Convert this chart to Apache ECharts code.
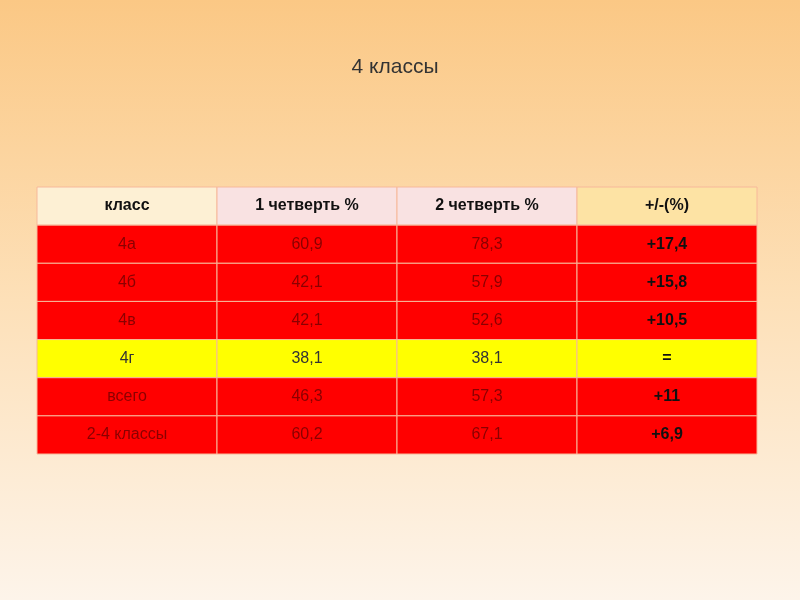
<!DOCTYPE html>
<html><head><meta charset="utf-8">
<script src="https://cdn.jsdelivr.net/npm/echarts@6/dist/echarts.min.js"></script>
<style>html,body{margin:0;padding:0}#c{width:800px;height:600px}</style>
</head><body><div id="c"></div>
<script>
const headers = ['класс', '1 четверть %', '2 четверть %', '+/-(%)'];
const classes = ['4а', '4б', '4в', '4г', 'всего', '2-4 классы'];
const q1 = ['60,9', '42,1', '42,1', '38,1', '46,3', '60,2'];
const q2 = ['78,3', '57,9', '52,6', '38,1', '57,3', '67,1'];
const diff = ['+17,4', '+15,8', '+10,5', '=', '+11', '+6,9'];
const yellowRows = [3];
const headerFills = ['#fdf0d4', '#f9e2e2', '#f9e2e2', '#fde3a4'];

const cells = [];
headers.forEach((h, c) => cells.push([c, 0, h, 'h']));
classes.forEach((cl, r) => {
  const kind = yellowRows.includes(r) ? 'y' : 'r';
  [cl, q1[r], q2[r], diff[r]].forEach((v, c) => cells.push([c, r + 1, v, kind]));
});

const chart = echarts.init(document.getElementById('c'));
chart.setOption({
  backgroundColor: new echarts.graphic.LinearGradient(0, 0, 0, 1, [
    {offset: 0, color: '#fbc885'}, {offset: 0.5, color: '#fde0b8'}, {offset: 1, color: '#fdf4ea'}]),
  title: {text: '4 классы', left: 390, top: 52, textAlign: 'center',
    textStyle: {fontFamily: 'Liberation Sans', fontSize: 21, fontWeight: 'normal', color: '#333'}},
  grid: {left: 37, top: 187, width: 720, height: 267},
  xAxis: {type: 'value', min: 0, max: 4, show: false},
  yAxis: {type: 'value', min: 0, max: 7, inverse: true, show: false},
  series: [{
    type: 'custom', data: cells,
    renderItem: function (params, api) {
      const c = api.value(0), r = api.value(1);
      const p0 = api.coord([c, r]), p1 = api.coord([c + 1, r + 1]);
      const kind = cells[params.dataIndex][3];
      const text = cells[params.dataIndex][2];
      let fill, color, weight;
      if (kind === 'h') { fill = headerFills[c]; color = '#111'; weight = 'bold'; }
      else if (kind === 'y') { fill = '#ffff00'; color = c === 3 ? '#111' : '#333'; weight = c === 3 ? 'bold' : 'normal'; }
      else { fill = '#ff0000'; color = c === 3 ? '#111' : '#8a0000'; weight = c === 3 ? 'bold' : 'normal'; }
      return {
        type: 'group', children: [
          {type: 'rect', shape: {x: p0[0], y: p0[1], width: p1[0] - p0[0], height: p1[1] - p0[1]},
            style: {fill: fill, stroke: '#f7b89a', lineWidth: 1}},
          {type: 'text', x: (p0[0] + p1[0]) / 2, y: (p0[1] + p1[1]) / 2,
            style: {text: text, fill: color, font: weight + ' 16px "Liberation Sans", Arial',
              align: 'center', verticalAlign: 'middle'}}
        ]
      };
    }
  }]
});
</script></body></html>
